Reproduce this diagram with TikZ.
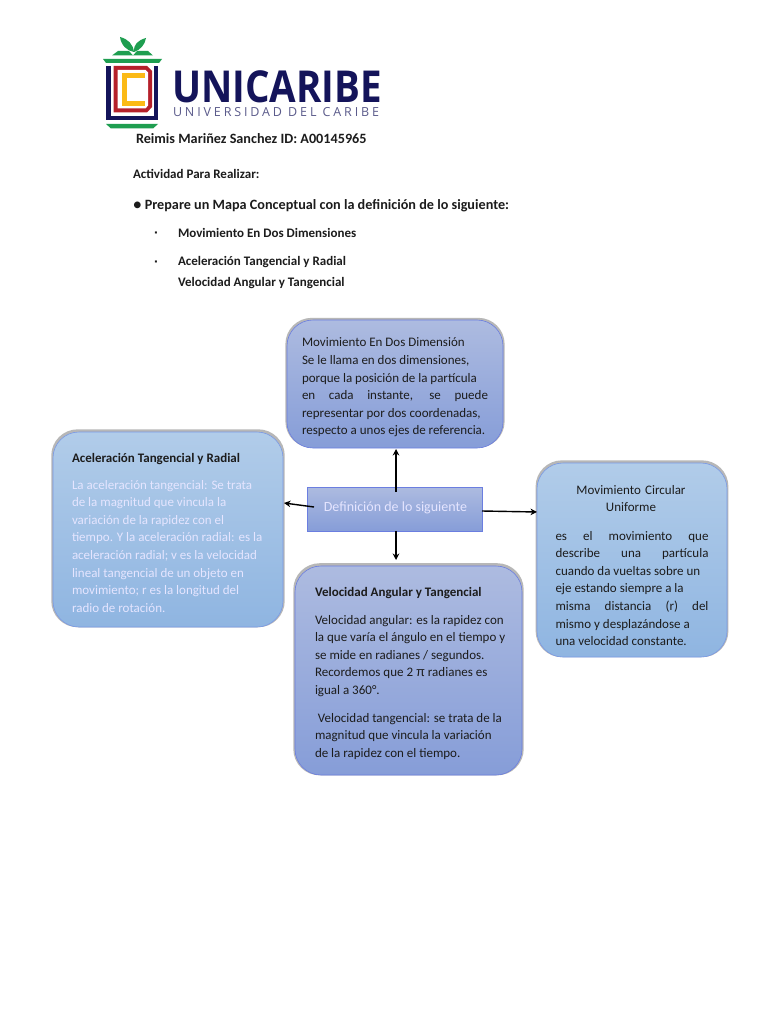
\documentclass[tikz,border=0pt]{standalone}
\usepackage{fontspec}
\setmainfont{Carlito}
\newfontfamily\logofont{Open Sans}
\newfontfamily\pifont{Liberation Sans}
\usetikzlibrary{shadows,arrows.meta}
\definecolor{navy}{HTML}{14145A}
\definecolor{lgreen}{HTML}{1E9E50}
\definecolor{lred}{HTML}{B5202A}
\definecolor{lyellow}{HTML}{FBBA16}
\definecolor{tdark}{HTML}{1C1C1C}
\definecolor{lilaT}{HTML}{ADBBE0}
\definecolor{lilaB}{HTML}{869DD8}
\definecolor{blueT}{HTML}{B1CCE9}
\definecolor{blueB}{HTML}{8FB5E1}
\tikzset{
  x=1pt,y=-1pt,
  every node/.style={inner sep=0pt,outer sep=0pt},
  mapbox/.style={draw=#1,line width=.6pt,rounded corners=26pt,
    general shadow={fill=black!70,opacity=.4,shadow scale=1.015,shadow yshift=1.2pt,shadow xshift=0pt}},
  lilabox/.style={mapbox=lilaB!80!blue,top color=lilaT,bottom color=lilaB},
  bluebox/.style={mapbox=blueB!85!blue,top color=blueT,bottom color=blueB},
  bodytext/.style={anchor=north west,align=left,font=\fontsize{13}{17.6}\selectfont,text=tdark},
  headtext/.style={anchor=west,font=\fontsize{13}{16}\selectfont\bfseries,text=tdark},
  listtext/.style={anchor=west,font=\fontsize{13}{16}\selectfont\bfseries,text=tdark},
  arrowline/.style={line width=1.4pt,black,-{Stealth[length=6.5pt,width=6.5pt]}},
}
\newcommand{\fl}[2]{\makebox[#1][s]{#2}}
\begin{document}
\begin{tikzpicture}
\useasboundingbox[fill=white] (0,0) rectangle (768,1024);
% logo
\fill[lgreen] (120,37) .. controls (128,39) and (133,44) .. (134,52) .. controls (127,51) and (121,45) .. cycle;
\fill[lgreen] (146,38) .. controls (138,40) and (133,45) .. (134,52) .. controls (140,50) and (145,45) .. cycle;
\fill[lgreen] (112,55.5) -- (118,51) -- (129,51) -- (133,55.5) -- cycle;
\fill[lgreen] (133,55.5) -- (137,51) -- (148,51) -- (153,55.5) -- cycle;
\fill[lgreen] (103,59) -- (162,59) -- (159,63) -- (106,63) -- cycle;
\fill[navy] (106,66) rectangle (158,120.5);
\fill[white] (110.5,66) rectangle (153.5,116.5);
\fill[lred] (113.5,66) -- (147,66) -- (152,71) -- (152,107) -- (147,112.5) -- (113.5,112.5) -- cycle;
\fill[white] (117.5,70) -- (145.5,70) -- (148,72.5) -- (148,105.5) -- (145.5,108.5) -- (117.5,108.5) -- cycle;
\fill[lyellow] (122,73.5) rectangle (145,106);
\fill[white] (127,78) rectangle (145,101.5);
\fill[lgreen] (106,124) -- (158,124) -- (153,128.5) -- (111,128.5) -- cycle;
\node[anchor=west,text=navy,font=\logofont\fontsize{44}{44}\selectfont\bfseries] (logotitle) at (172,86.5) {\scalebox{.875}[1]{UNICARIBE}};
\node[anchor=west,text=navy!70!white,font=\logofont\fontsize{12.5}{13}\selectfont] (logosub) at (173,112.5) {\addfontfeature{LetterSpace=23}UNIVERSIDAD DEL CARIBE};
% header text
\node[anchor=west,font=\fontsize{14.2}{16}\selectfont\bfseries,text=tdark] (author) at (136,139) {Reimis Mariñez Sanchez ID: A00145965};
\node[listtext] (act) at (133,174) {Actividad Para Realizar:};
\node[anchor=west,font=\fontsize{14.2}{16}\selectfont\bfseries,text=tdark] (prep) at (133,205.5) {● Prepare un Mapa Conceptual con la definición de lo siguiente:};
\node[listtext,font=\fontsize{8}{8}\selectfont] (b1) at (154.5,234) {▪};
\node[listtext] (i1) at (178,233) {Movimiento En Dos Dimensiones};
\node[listtext,font=\fontsize{8}{8}\selectfont] (b2) at (154.5,263) {▪};
\node[listtext] (i2) at (178,262.5) {Aceleración Tangencial y Radial};
\node[listtext] (i3) at (178,283.5) {Velocidad Angular y Tangencial};
% boxes
\path[lilabox] (287,320) rectangle (503,448);
\coordinate (topS) at (396,449);
\path[bluebox] (53,432) rectangle (283,627);
\coordinate (leftE) at (284,503);
\path[bluebox] (537,463) rectangle (727,657);
\coordinate (rightW) at (537,512);
\path[lilabox] (295,566) rectangle (522,775);
\coordinate (botN) at (396,560);
\path[draw=lilaB!80!blue,line width=.6pt,top color=lilaT,bottom color=lilaB] (307,487) rectangle (482,531);
\coordinate (cenN) at (396,492);
\coordinate (cenS) at (396,531);
\coordinate (cenW) at (314,507);
\coordinate (cenE) at (482,511);
% connectors
\draw[arrowline] (cenN) -- (topS);
\draw[arrowline] (cenS) -- (botN);
\draw[arrowline] (cenW) -- (leftE);
\draw[arrowline] (cenE) -- (rightW);
% texts
\node[anchor=center,font=\fontsize{14}{16}\selectfont,text=white!90!blue] (cen) at (395.5,507.5) {Definición de lo siguiente};
\node[bodytext] (toptext) at (302,338) {Movimiento En Dos Dimensión\\Se le llama en dos dimensiones,\\porque la posición de la partícula\\\fl{186pt}{en cada instante, se puede}\\representar por dos coordenadas,\\respecto a unos ejes de referencia.};
\node[headtext] (lefthead) at (72,459.5) {Aceleración Tangencial y Radial};
\node[bodytext,text=white!90!blue] (lefttext) at (72,480) {La aceleración tangencial: Se trata\\de la magnitud que vincula la\\variación de la rapidez con el\\tiempo. Y la aceleración radial: es la\\aceleración radial; v es la velocidad\\lineal tangencial de un objeto en\\movimiento; r es la longitud del\\radio de rotación.};
\node[bodytext,align=center,text width=150pt,anchor=north] (righthead) at (631,485) {Movimiento Circular\\Uniforme};
\node[bodytext] (righttext) at (555.5,531) {\fl{153pt}{es el movimiento que}\\\fl{153pt}{describe una partícula}\\cuando da vueltas sobre un\\eje estando siempre a la\\\fl{153pt}{misma distancia (r) del}\\mismo y desplazándose a\\una velocidad constante.};
\node[headtext] (bothead) at (315,593.5) {Velocidad Angular y Tangencial};
\node[bodytext] (bottext1) at (315,615) {Velocidad angular: es la rapidez con\\la que varía el ángulo en el tiempo y\\se mide en radianes / segundos.\\Recordemos que 2 {\pifont π} radianes es\\igual a 360°.};
\node[bodytext] (bottext2) at (315,713) {\ Velocidad tangencial: se trata de la\\magnitud que vincula la variación\\de la rapidez con el tiempo.};
\end{tikzpicture}
\end{document}
